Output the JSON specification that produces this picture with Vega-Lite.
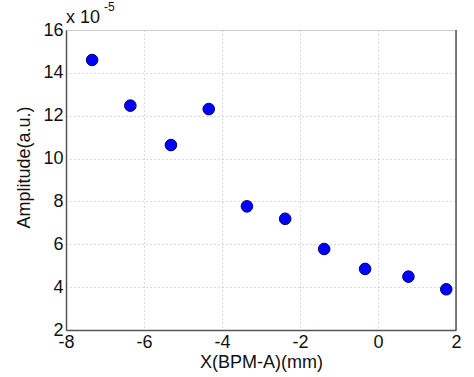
{
  "$schema": "https://vega.github.io/schema/vega-lite/v6.json",
  "autosize": "none",
  "width": 390,
  "height": 300,
  "padding": {"left": 66, "top": 30, "right": 18, "bottom": 47},
  "background": "white",
  "config": {
    "font": "Liberation Sans",
    "view": {"stroke": "#d8d8d8", "strokeWidth": 1},
    "axis": {
      "labelFont": "Liberation Sans",
      "titleFont": "Liberation Sans",
      "labelFontSize": 18,
      "titleFontSize": 18,
      "titleFontWeight": "normal",
      "labelColor": "#111",
      "titleColor": "#111",
      "domainColor": "#555",
      "domainWidth": 1.5,
      "gridColor": "#b4b4b4",
      "gridDash": [1, 3],
      "gridWidth": 1,
      "tickColor": "#555",
      "ticks": false
    }
  },
  "layer": [
    {
      "data": {
        "values": [
          {"x": -7.33, "y": 14.6},
          {"x": -6.35, "y": 12.47},
          {"x": -5.31, "y": 10.63},
          {"x": -4.34, "y": 12.31},
          {"x": -3.36, "y": 7.77},
          {"x": -2.38, "y": 7.19},
          {"x": -1.38, "y": 5.78},
          {"x": -0.33, "y": 4.85},
          {"x": 0.78, "y": 4.49},
          {"x": 1.75, "y": 3.9}
        ]
      },
      "mark": {"type": "point", "filled": true, "fill": "#0000ff", "stroke": "#00006a", "strokeWidth": 1, "size": 135, "opacity": 1, "shape": "circle"},
      "encoding": {
        "x": {
          "field": "x", "type": "quantitative",
          "scale": {"domain": [-8, 2], "nice": false, "zero": false},
          "axis": {"values": [-8, -6, -4, -2, 0, 2], "title": "X(BPM-A)(mm)", "labelPadding": 3, "titlePadding": 2, "labelFlush": false,
                   "labelExpr": "datum.value < 0 ? '-' + abs(datum.value) : '' + datum.value"}
        },
        "y": {
          "field": "y", "type": "quantitative",
          "scale": {"domain": [2, 16], "nice": false, "zero": false},
          "axis": {"values": [2, 4, 6, 8, 10, 12, 14, 16], "title": "Amplitude(a.u.)", "labelPadding": 3, "titlePadding": 9, "titleY": 137, "labelFlush": false}
        }
      }
    },
    {
      "data": {"values": [{"xr": 2}]},
      "mark": {"type": "rule", "color": "#555", "strokeWidth": 1.5},
      "encoding": {
        "x": {"field": "xr", "type": "quantitative"}
      }
    },
    {
      "data": {"values": [{"tx": -8, "ty": 16, "label": "x 10"}]},
      "mark": {"type": "text", "font": "Liberation Sans", "fontSize": 18, "fontWeight": 400, "align": "left", "baseline": "bottom", "dx": 0, "dy": -3, "color": "#111"},
      "encoding": {
        "x": {"field": "tx", "type": "quantitative"},
        "y": {"field": "ty", "type": "quantitative"},
        "text": {"field": "label"}
      }
    },
    {
      "data": {"values": [{"tx": -8, "ty": 16, "label": "-5"}]},
      "mark": {"type": "text", "font": "Liberation Sans", "fontSize": 12, "fontWeight": 400, "align": "left", "baseline": "bottom", "dx": 38, "dy": -16, "color": "#111"},
      "encoding": {
        "x": {"field": "tx", "type": "quantitative"},
        "y": {"field": "ty", "type": "quantitative"},
        "text": {"field": "label"}
      }
    }
  ]
}
